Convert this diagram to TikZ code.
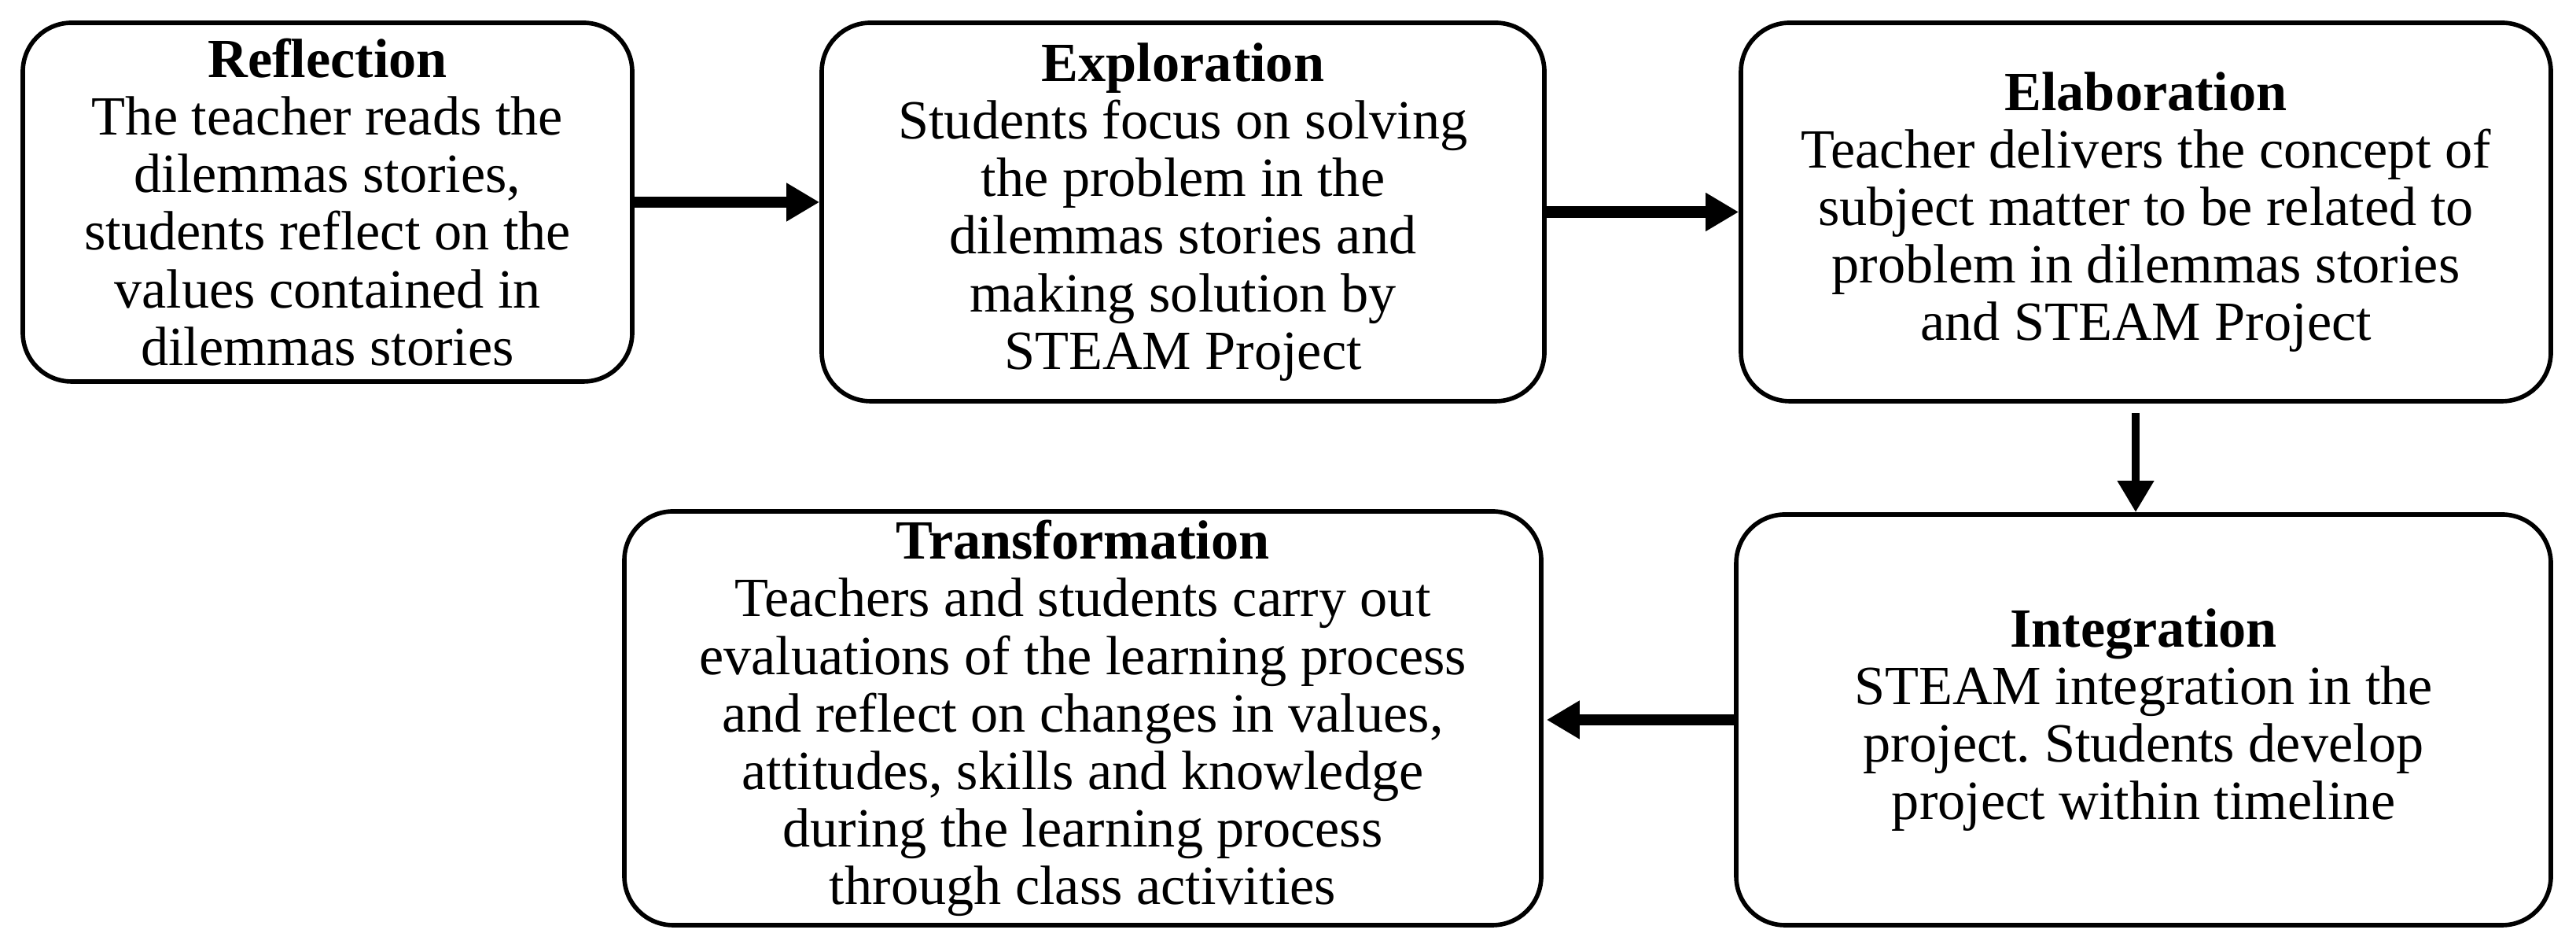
\documentclass[tikz,border=0pt]{standalone}
\usepackage{fontspec}
\setmainfont{Liberation Serif}
\usetikzlibrary{arrows.meta}
\frenchspacing

\begin{document}
\begin{tikzpicture}[
    stage/.style={draw, line width=1.6pt, rounded corners=0.62cm, align=center,
      inner sep=2pt, font=\fontsize{20}{20.8}\selectfont},
    flow/.style={line width=4pt, -{Triangle[length=0.42cm, width=0.46cm]}},
    flowdown/.style={line width=3pt, -{Triangle[length=0.40cm, width=0.44cm]}}
  ]

  % --- Rahmen (3276 x 1205 px, 1 px = 0.01 cm) ---
  \useasboundingbox (0,0) rectangle (32.76,12.05);

  % --- obere Reihe ---
  \node[stage, minimum width=7.75cm, minimum height=4.56cm] (refl) at (4.165,9.48)
    {\textbf{Reflection}\\The teacher reads the\\dilemmas stories,\\students reflect on the\\values contained in\\dilemmas stories};
  \node[stage, minimum width=9.19cm, minimum height=4.81cm] (expl) at (15.045,9.355)
    {\textbf{Exploration}\\Students focus on solving\\the problem in the\\dilemmas stories and\\making solution by\\STEAM Project};
  \node[stage, minimum width=10.30cm, minimum height=4.81cm] (elab) at (27.29,9.355)
    {\textbf{Elaboration}\\Teacher delivers the concept of\\subject matter to be related to\\problem in dilemmas stories\\and STEAM Project};

  % --- untere Reihe ---
  \node[stage, minimum width=10.36cm, minimum height=5.22cm] (integ) at (27.26,2.90)
    {\textbf{Integration}\\STEAM integration in the\\project. Students develop\\project within timeline};
  \node[stage, minimum width=11.66cm, minimum height=5.26cm] (transf) at (13.77,2.92)
    {\textbf{Transformation}\\Teachers and students carry out\\evaluations of the learning process\\and reflect on changes in values,\\attitudes, skills and knowledge\\during the learning process\\through class activities};

  % --- Pfeile ---
  \draw[flow] (refl.east) -- (refl.east -| expl.west);
  \draw[flow] (expl.east) -- (elab.west);
  \draw[flowdown, shorten <=0.12cm] ([xshift=-0.13cm]elab.south) -- ([xshift=-0.13cm]elab.south |- integ.north);
  \draw[flow, shorten >=0.04cm] (integ.west) -- (integ.west -| transf.east);

\end{tikzpicture}
\end{document}
